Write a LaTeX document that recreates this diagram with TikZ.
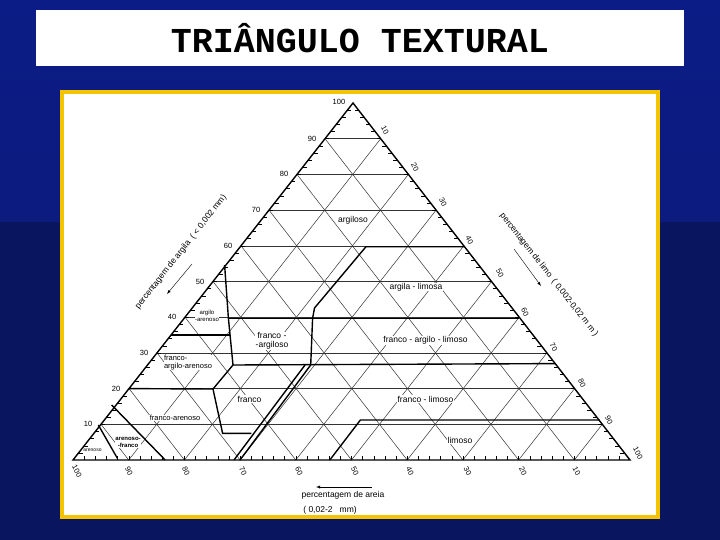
\documentclass[tikz,border=0pt]{standalone}
\usepackage{fontspec}
\setmainfont{Liberation Sans}
\newfontfamily\titlefont{Liberation Mono}
\definecolor{bgA}{HTML}{0B1C86}
\definecolor{bgB}{HTML}{09155E}
\definecolor{frameY}{HTML}{F5C400}
\def\tc#1#2{({73+5.57*(100-(#1)-(#2))+2.80*(#2)},{460-3.57*(#2)})}
\tikzset{
  grid/.style={line width=0.5pt,black!80},
  thick/.style={line width=1.4pt,black},
  tick/.style={line width=0.4pt,black},
  lbl/.style={font=\fontsize{8.5}{9}\selectfont,inner sep=0.5pt},
  num/.style={font=\fontsize{7.5}{8}\selectfont,inner sep=0pt},
}
\begin{document}
\begin{tikzpicture}[x=1pt,y=-1pt]
\useasboundingbox (0,0) rectangle (720,540);
\fill[bgB] (0,0) rectangle (720,540);
\shade[top color=bgA,bottom color=bgA!80!bgB] (0,0) rectangle (720,222);
% title
\fill[white] (36,10) rectangle (684,66);
\node[font=\titlefont\bfseries\fontsize{35}{38}\selectfont] (title) at (360,38) {TRIÂNGULO TEXTURAL};
% frame
\fill[white] (62,92) rectangle (658,517);
\begin{scope}
\clip (62,92) rectangle (658,517);
% grid
\foreach \k in {10,20,...,90}{
  \draw[grid] \tc{100-\k}{\k} -- \tc{0}{\k};
  \draw[grid] \tc{100-\k}{0} -- \tc{0}{100-\k};
  \draw[grid] \tc{\k}{0} -- \tc{\k}{100-\k};
}
\foreach \i in {2,4,...,98}{
  \draw[tick] \tc{100-\i}{\i} -- ++(4,0);
  \draw[tick] \tc{0}{\i} -- ++(-4,0);
  \draw[tick] \tc{\i}{0} -- ++(0,-4);
}
\draw[line width=1.4pt] \tc{100}{0} -- \tc{0}{0} -- \tc{0}{100} -- cycle;
% class boundaries
\draw[thick] (224.6,265) -- (228.4,318.3) -- (233,365) -- (213,389) -- (222.6,433.3) -- (251.4,433.3);
\draw[thick] (228.4,318.3) -- (519,318.3);
\draw[thick] (171,335) -- (230.3,335);
\draw[thick] (233,365) -- (555,363.6);
\draw[thick] (129,388.6) -- (213,389);
\draw[thick] (234,460) -- (305,365);
\draw[thick] (240,460) -- (310.7,365) -- (312.6,318.3) -- (314.5,308) -- (366,246.7) -- (463.8,246.7);
\draw[thick] (329.8,460) -- (360.4,420) -- (599.6,420);
\draw[thick] (111.7,405) -- (165.2,460);
\draw[thick] (98.3,425) -- (117.4,458.3);
% class labels
\node[lbl,fill=white] (c1) at (353,220) {argiloso};
\node[lbl,fill=white] (c2) at (416,287) {argila - limosa};
\node[lbl,fill=white] (c3) at (425.5,340.7) {franco - argilo - limoso};
\node[lbl,fill=white] (c4) at (425.5,399) {franco - limoso};
\node[lbl,fill=white] (c5) at (460,440) {limoso};
\node[lbl,fill=white,align=center] (c6) at (272,341) {franco -\\-argiloso};
\node[lbl,fill=white] (c7) at (249.5,399) {franco};
\node[lbl,fill=white,font=\fontsize{7.5}{8}\selectfont] (c8) at (175,418) {franco-arenoso};
\node[lbl,fill=white,align=left,font=\fontsize{7.5}{8}\selectfont] (c9) at (188,362.5) {franco-\\argilo-arenoso};
\node[lbl,fill=white,align=center,font=\fontsize{6}{6.5}\selectfont] (c10) at (207,316) {argilo\\-arenoso};
\node[lbl,fill=white,align=center,font=\fontsize{6}{6.5}\selectfont\bfseries] (c11) at (128,442.5) {arenoso-\\-franco};
\node[lbl,font=\fontsize{5}{5}\selectfont] (c12) at (92.5,450) {arenoso};
% left numbers
\node[num] (l100) at (339,102) {100};
\foreach \k in {10,20,...,90}{
  \path \tc{100-\k}{\k} node[num,xshift=-13pt] {\k};
}
% right numbers
\foreach \k/\x/\y in {10/385/130,20/415/167,30/443/202,40/469.5/240,50/500/273,60/525/312,70/553.7/347,80/582/383,90/609/420,100/638/453}{
  \node[num,rotate=-62] at (\x,\y) {\k};
}
% bottom numbers
\foreach \k/\x in {100/77,90/129,80/186,70/243,60/299,50/355,40/410,30/467.6,20/523,10/576.6}{
  \node[num,rotate=-62] at (\x,471) {\k};
}
% axis titles
\node[lbl,rotate=52] (tl) at (181,252) {percentagem de argila \ ( < 0,002 mm)};
\node[lbl,rotate=-52] (tr) at (549,275) {percentagem de limo \ ( 0,002-0,02 m m )};
\node[lbl] (tb) at (343,495) {percentagem de areia};
\node[lbl] (tb2) at (330,510) {( 0,02-2 \ \ mm)};
\draw[-latex] (192,264) -- (167,294);
\draw[-latex] (514,249) -- (541,286);
\draw[-latex] (372,487) -- (316,487);
\end{scope}
\draw[frameY,line width=4.5pt] (62,92) rectangle (658,517);
\end{tikzpicture}
\end{document}
